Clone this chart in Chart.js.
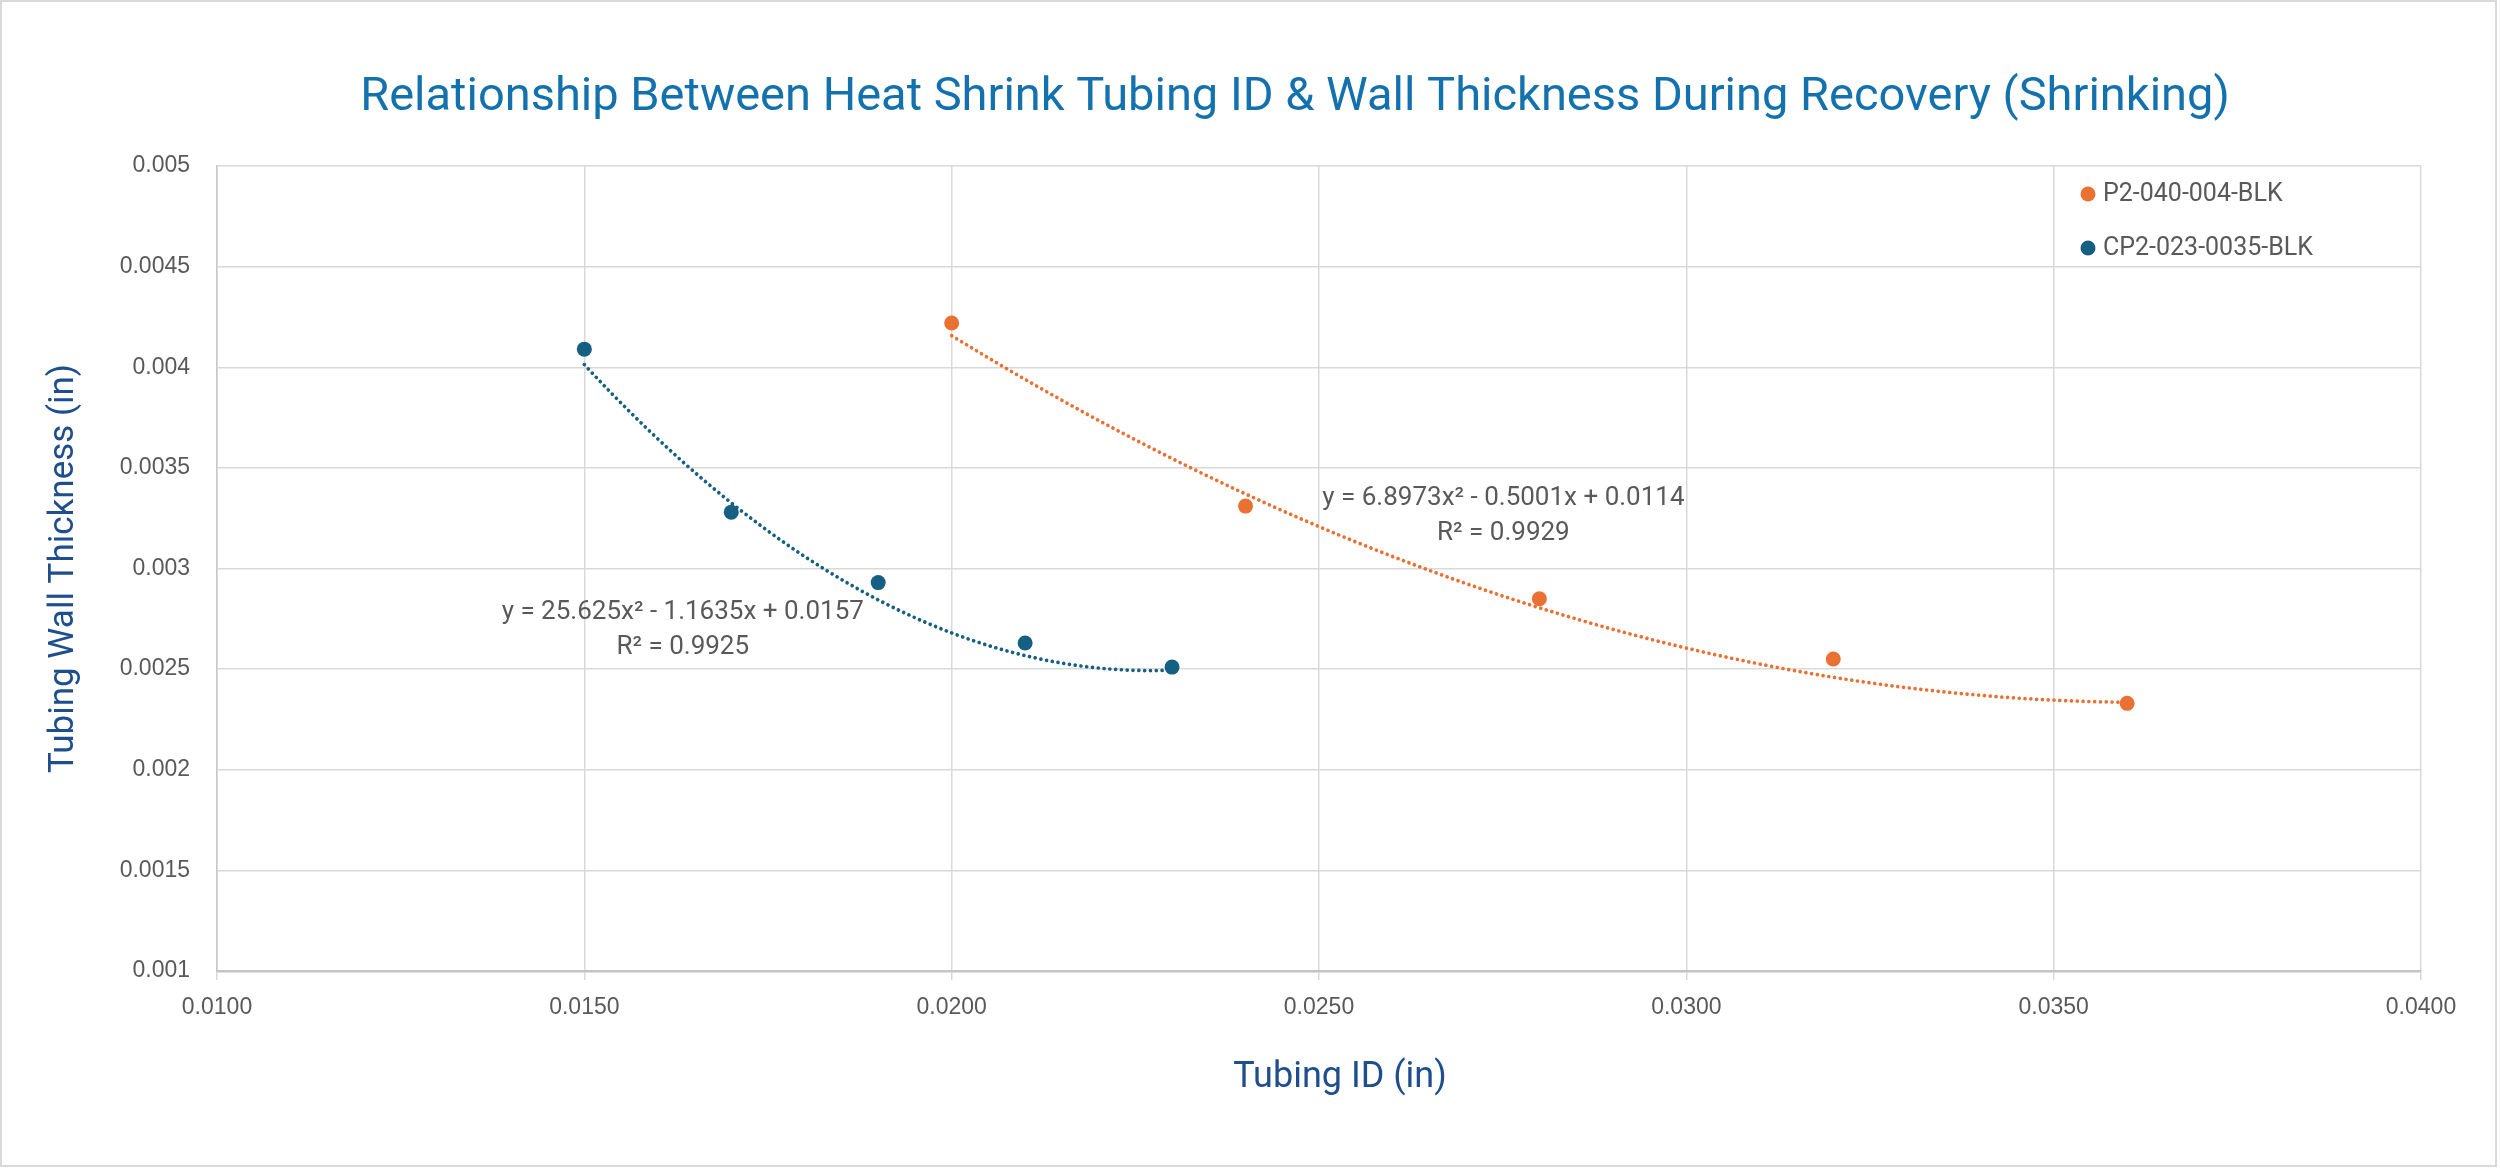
<!DOCTYPE html>
<html lang="en">
<head>
    <meta charset="UTF-8">
    <title>Heat Shrink Tubing ID vs Wall Thickness</title>
    <style>
        body {
            margin: 0;
            padding: 0;
            background: #fff;
        }
        #chart-wrap {
            position: relative;
            width: 2500px;
            height: 1170px;
        }
    </style>
    <script src="https://cdn.jsdelivr.net/npm/chart.js"></script>
</head>
<body>
    <div id="chart-wrap">
        <canvas id="shrinkChart"></canvas>
    </div>
    <script>
        // values
        var seriesNames = ['P2-040-004-BLK', 'CP2-023-0035-BLK'];
        var seriesColors = ['#E97132', '#156082'];

        var p2TubingId = [0.020, 0.024, 0.028, 0.032, 0.036];
        var p2Wall = [0.00422, 0.00331, 0.00285, 0.00255, 0.00233];

        var cp2TubingId = [0.015, 0.017, 0.019, 0.021, 0.023];
        var cp2Wall = [0.00409, 0.00328, 0.00293, 0.00263, 0.00251];

        // trendline coefficients shown on the chart (a*x^2 + b*x + c)
        var p2Fit = [6.8973, -0.5001, 0.0114];
        var cp2Fit = [25.625, -1.1635, 0.0157];
        var fitEquations = ['y = 6.8973x² - 0.5001x + 0.0114', 'y = 25.625x² - 1.1635x + 0.0157'];
        var fitR2 = ['R² = 0.9929', 'R² = 0.9925'];
        // where Excel put the equation labels (data coords)
        var fitLabelX = [0.02751, 0.01634];
        var fitLabelY = [0.003263, 0.002692];

        var xTickValues = [0.010, 0.015, 0.020, 0.025, 0.030, 0.035, 0.040];
        var xTickLabels = ['0.0100', '0.0150', '0.0200', '0.0250', '0.0300', '0.0350', '0.0400'];
        var yTickValues = [0.001, 0.0015, 0.002, 0.0025, 0.003, 0.0035, 0.004, 0.0045, 0.005];
        var yTickLabels = ['0.001', '0.0015', '0.002', '0.0025', '0.003', '0.0035', '0.004', '0.0045', '0.005'];

        var chartTitle = 'Relationship Between Heat Shrink Tubing ID & Wall Thickness During Recovery (Shrinking)';
        var xTitle = 'Tubing ID (in)';
        var yTitle = 'Tubing Wall Thickness (in)';

        function toPoints(xs, ys) {
            return xs.map(function (x, i) { return { x: x, y: ys[i] }; });
        }

        var fits = [
            { coef: p2Fit, xs: p2TubingId },
            { coef: cp2Fit, xs: cp2TubingId }
        ];

        var trendlinePlugin = {
            id: 'trendlines',
            beforeDatasetsDraw: function (chart) {
                var ctx = chart.ctx;
                var xs = chart.scales.x, ys = chart.scales.y;
                fits.forEach(function (f, k) {
                    var x0 = Math.min.apply(null, f.xs), x1 = Math.max.apply(null, f.xs);
                    var steps = 200;
                    ctx.save();
                    ctx.beginPath();
                    for (var i = 0; i <= steps; i++) {
                        var x = x0 + (x1 - x0) * i / steps;
                        var y = f.coef[0] * x * x + f.coef[1] * x + f.coef[2];
                        var px = xs.getPixelForValue(x), py = ys.getPixelForValue(y);
                        if (i === 0) ctx.moveTo(px, py); else ctx.lineTo(px, py);
                    }
                    ctx.strokeStyle = seriesColors[k];
                    ctx.lineWidth = 3.7;
                    ctx.lineCap = 'round';
                    ctx.setLineDash([0.01, 5.8]);
                    ctx.stroke();
                    ctx.restore();
                });
            },
            afterDraw: function (chart) {
                var ctx = chart.ctx;
                var xs = chart.scales.x, ys = chart.scales.y;
                ctx.save();

                // equation labels
                ctx.fillStyle = '#595959';
                ctx.font = '26px Roboto';
                ctx.textAlign = 'center';
                ctx.textBaseline = 'middle';
                fitEquations.forEach(function (eq, k) {
                    var px = xs.getPixelForValue(fitLabelX[k]);
                    var py = ys.getPixelForValue(fitLabelY[k]);
                    ctx.fillText(eq, px, py - 17.5);
                    ctx.fillText(fitR2[k], px, py + 17.5);
                });

                // legend inside plot, top right
                ctx.font = '25px Roboto';
                ctx.textAlign = 'left';
                seriesNames.forEach(function (name, k) {
                    var ly = 194 + k * 54;
                    ctx.fillStyle = seriesColors[k];
                    ctx.beginPath();
                    ctx.arc(2088, ly, 7.5, 0, Math.PI * 2);
                    ctx.fill();
                    ctx.fillStyle = '#595959';
                    ctx.fillText(name, 2103, ly + 1);
                });

                // titles
                ctx.textAlign = 'center';
                ctx.textBaseline = 'alphabetic';
                ctx.fillStyle = '#1372AE';
                ctx.font = '47px Roboto';
                ctx.fillText(chartTitle, 1295, 110);

                ctx.fillStyle = '#1E4E8C';
                ctx.font = '36px Roboto';
                ctx.fillText(xTitle, 1340, 1087);

                ctx.font = '35px Roboto';
                ctx.translate(73, (chart.chartArea.top + chart.chartArea.bottom) / 2);
                ctx.rotate(-Math.PI / 2);
                ctx.fillText(yTitle, 0, 0);
                ctx.restore();

                // outer frame
                ctx.save();
                ctx.strokeStyle = '#D9D9D9';
                ctx.lineWidth = 2;
                ctx.strokeRect(1, 1, 2495, 1165);
                ctx.restore();
            }
        };

        document.addEventListener('DOMContentLoaded', function () {
            var ctx = document.getElementById('shrinkChart').getContext('2d');
            new Chart(ctx, {
                type: 'scatter',
                data: {
                    datasets: [{
                        label: seriesNames[0],
                        data: toPoints(p2TubingId, p2Wall),
                        backgroundColor: seriesColors[0],
                        borderColor: seriesColors[0],
                        borderWidth: 0,
                        pointRadius: 7.5,
                        pointHoverRadius: 7.5
                    }, {
                        label: seriesNames[1],
                        data: toPoints(cp2TubingId, cp2Wall),
                        backgroundColor: seriesColors[1],
                        borderColor: seriesColors[1],
                        borderWidth: 0,
                        pointRadius: 7.5,
                        pointHoverRadius: 7.5
                    }]
                },
                options: {
                    responsive: true,
                    maintainAspectRatio: false,
                    animation: false,
                    layout: {
                        padding: { top: 166, right: 79, left: 0, bottom: 0 }
                    },
                    plugins: {
                        legend: { display: false },
                        title: { display: false },
                        tooltip: { enabled: false }
                    },
                    scales: {
                        x: {
                            type: 'linear',
                            min: 0.01,
                            max: 0.04,
                            afterFit: function (scale) { scale.height = 199; },
                            afterBuildTicks: function (scale) {
                                scale.ticks = xTickValues.map(function (v) { return { value: v }; });
                            },
                            ticks: {
                                color: '#595959',
                                font: { family: 'Liberation Sans', size: 23 },
                                padding: 14,
                                maxRotation: 0,
                                callback: function (v, i) { return xTickLabels[i]; }
                            },
                            grid: {
                                color: '#D9D9D9',
                                lineWidth: 1.5,
                                drawTicks: true,
                                tickLength: 9,
                                tickColor: '#D9D9D9'
                            },
                            border: { color: '#C4C4C4', width: 2.5 }
                        },
                        y: {
                            type: 'linear',
                            min: 0.001,
                            max: 0.005,
                            afterFit: function (scale) { scale.width = 217; },
                            afterBuildTicks: function (scale) {
                                scale.ticks = yTickValues.map(function (v) { return { value: v }; });
                            },
                            ticks: {
                                color: '#595959',
                                font: { family: 'Liberation Sans', size: 23 },
                                padding: 27,
                                callback: function (v, i) { return yTickLabels[i]; }
                            },
                            grid: {
                                color: '#D9D9D9',
                                lineWidth: 1.5,
                                drawTicks: false
                            },
                            border: { color: '#C8C8C8', width: 1.5 }
                        }
                    }
                },
                plugins: [trendlinePlugin]
            });
        });
    </script>
</body>
</html>
